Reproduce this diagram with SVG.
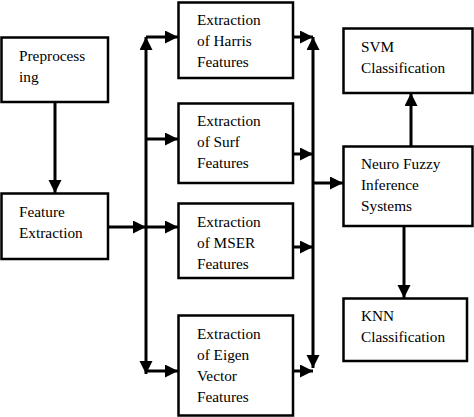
<svg xmlns="http://www.w3.org/2000/svg" width="474" height="417" viewBox="0 0 474 417">
<defs>
<marker id="ah" markerUnits="userSpaceOnUse" markerWidth="14" markerHeight="14" refX="13" refY="6.5" orient="auto">
<path d="M0,0 L13,6.5 L0,13 z" fill="#000"/>
</marker>
<style>
.box{fill:#fff;stroke:#000;stroke-width:2.5}
.t{font-family:"Liberation Serif","Times New Roman",serif;font-size:15.3px;fill:#000}
.c{fill:none;stroke:#000;stroke-width:3;marker-end:url(#ah)}
.l{fill:none;stroke:#000;stroke-width:3}
</style>
</defs>
<rect width="474" height="417" fill="#fff"/>
<g id="connectors">
<line class="c" x1="55" y1="102" x2="55" y2="193"/>
<line class="c" x1="108" y1="227" x2="146" y2="227"/>
<line class="c" x1="146" y1="227" x2="146" y2="37"/>
<line class="c" x1="146" y1="227" x2="146" y2="374"/>
<line class="c" x1="146" y1="37" x2="178" y2="37"/>
<line class="c" x1="146" y1="139" x2="178" y2="139"/>
<line class="c" x1="146" y1="227" x2="178" y2="227"/>
<line class="c" x1="146" y1="371" x2="178" y2="371"/>
<line class="c" x1="293" y1="37" x2="313" y2="37"/>
<line class="c" x1="293" y1="154" x2="313" y2="154"/>
<line class="c" x1="293" y1="247" x2="313" y2="247"/>
<line class="c" x1="293" y1="371" x2="313" y2="371"/>
<line class="c" x1="313" y1="183" x2="313" y2="37"/>
<line class="c" x1="313" y1="183" x2="313" y2="368"/>
<line class="c" x1="313" y1="183" x2="343" y2="183"/>
<line class="c" x1="411" y1="146" x2="411" y2="93"/>
<line class="c" x1="404" y1="226" x2="404" y2="298"/>
</g>
<g id="preprocessing">
<rect class="box" x="1.5" y="37.5" width="106.5" height="64.5"/>
<text class="t" x="19" y="61">Preprocess</text>
<text class="t" x="19" y="82">ing</text>
</g>
<g id="feature-extraction">
<rect class="box" x="1.5" y="193.5" width="106.5" height="65.5"/>
<text class="t" x="19" y="217">Feature</text>
<text class="t" x="19" y="238">Extraction</text>
</g>
<g id="harris">
<rect class="box" x="178.5" y="2.5" width="114.5" height="75.5"/>
<text class="t" x="197" y="25">Extraction</text>
<text class="t" x="197" y="46">of Harris</text>
<text class="t" x="197" y="67">Features</text>
</g>
<g id="surf">
<rect class="box" x="178.5" y="103.5" width="114.5" height="79.5"/>
<text class="t" x="197" y="126">Extraction</text>
<text class="t" x="197" y="147">of Surf</text>
<text class="t" x="197" y="168">Features</text>
</g>
<g id="mser">
<rect class="box" x="178.5" y="203.5" width="114.5" height="74.5"/>
<text class="t" x="197" y="227">Extraction</text>
<text class="t" x="197" y="248">of MSER</text>
<text class="t" x="197" y="269">Features</text>
</g>
<g id="eigen">
<rect class="box" x="178.5" y="315.5" width="114.5" height="100"/>
<text class="t" x="197" y="339">Extraction</text>
<text class="t" x="197" y="360">of Eigen</text>
<text class="t" x="197" y="381">Vector</text>
<text class="t" x="197" y="402">Features</text>
</g>
<g id="svm">
<rect class="box" x="343.5" y="28.5" width="129" height="64.5"/>
<text class="t" x="361" y="52">SVM</text>
<text class="t" x="361" y="73">Classification</text>
</g>
<g id="neuro-fuzzy">
<rect class="box" x="343.5" y="146.5" width="129" height="79.5"/>
<text class="t" x="361" y="169">Neuro Fuzzy</text>
<text class="t" x="361" y="190">Inference</text>
<text class="t" x="361" y="211">Systems</text>
</g>
<g id="knn">
<rect class="box" x="343.5" y="298.5" width="123.5" height="62.5"/>
<text class="t" x="361" y="321">KNN</text>
<text class="t" x="361" y="342">Classification</text>
</g>
</svg>
